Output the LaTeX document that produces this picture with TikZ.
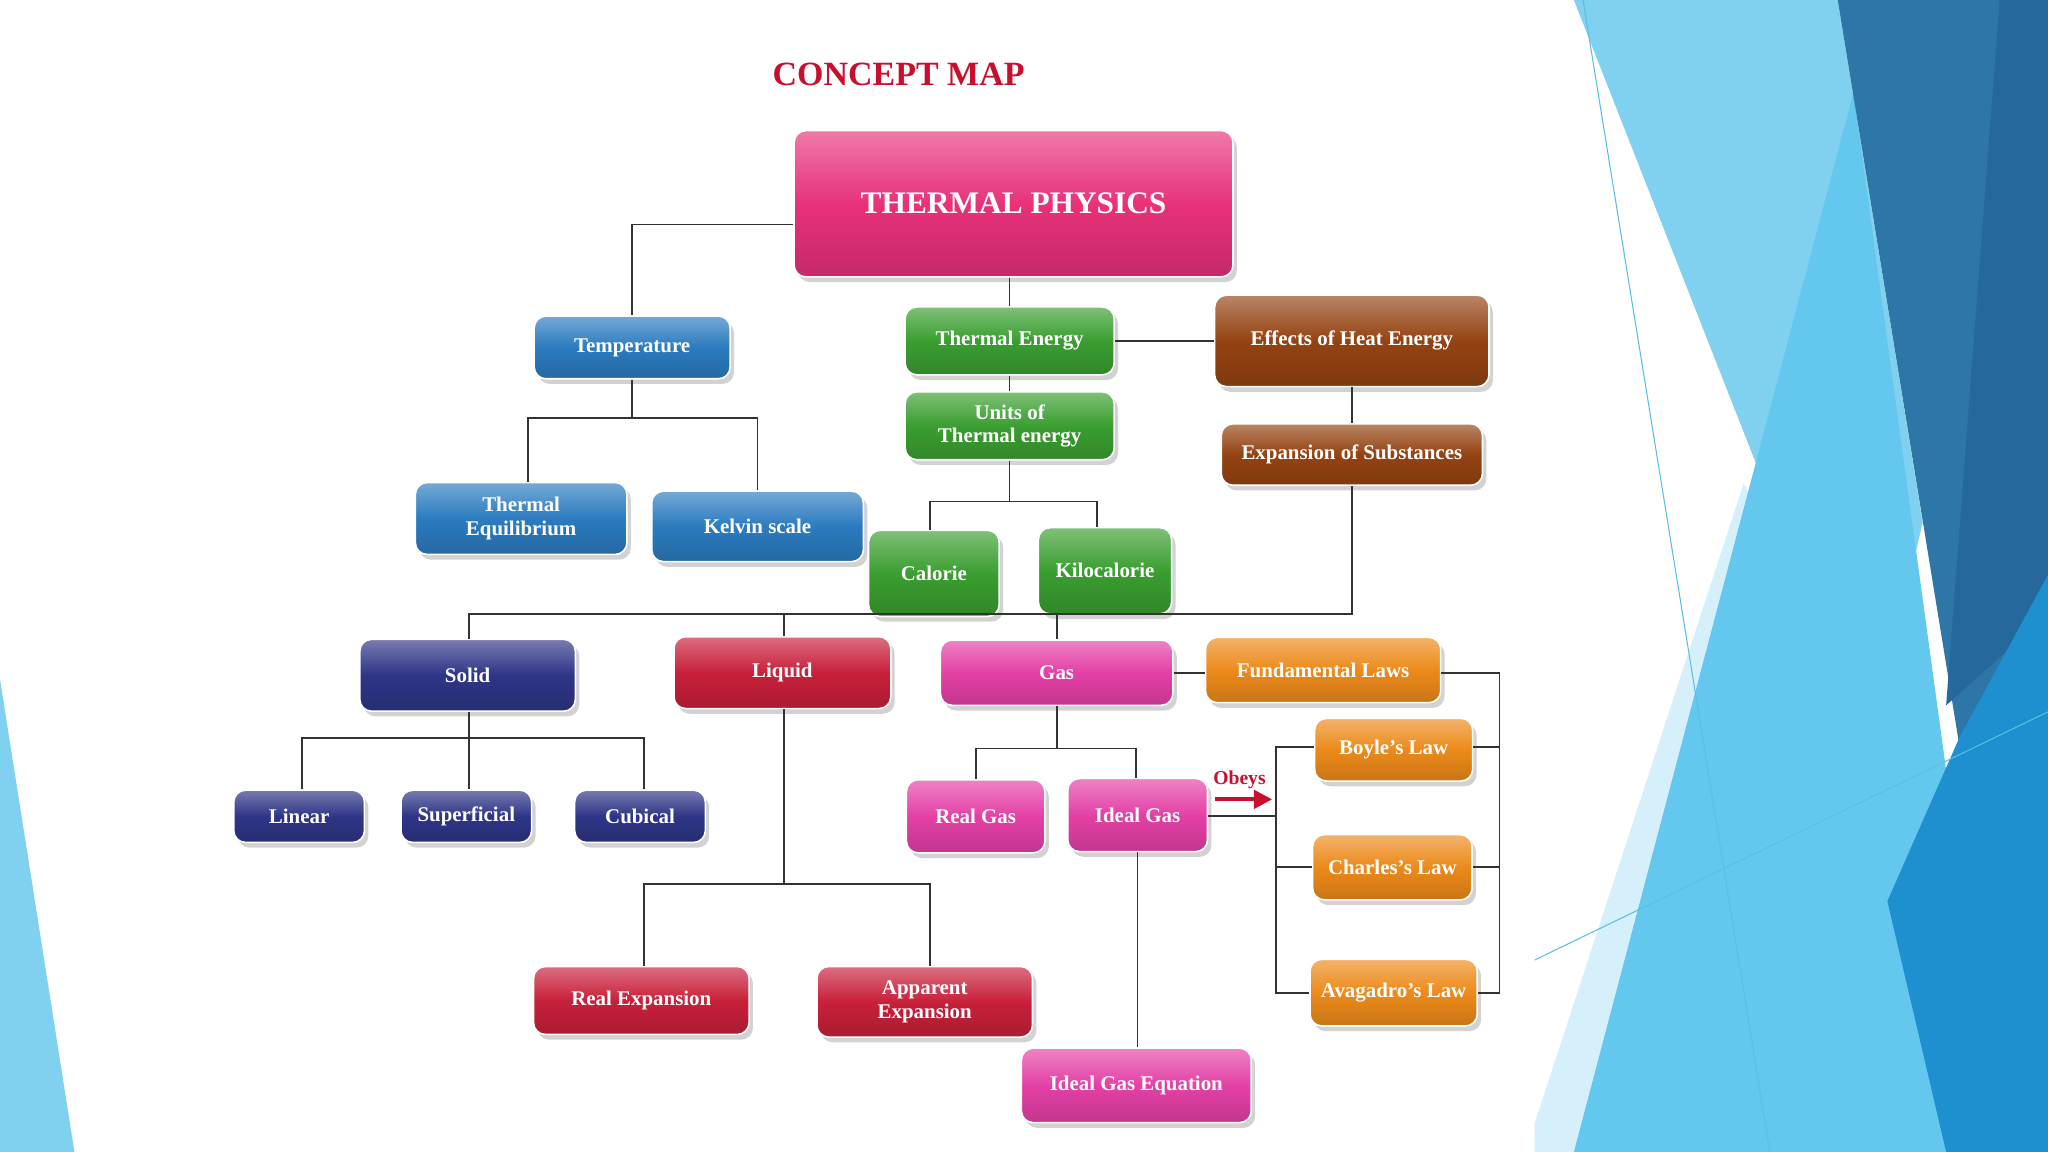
\documentclass[tikz,border=0pt]{standalone}
\usepackage{fontspec}
\setmainfont{Liberation Serif}
\usetikzlibrary{shadows,arrows.meta}
\definecolor{cpink}{HTML}{E8317A}
\definecolor{cblue}{HTML}{2B7BBF}
\definecolor{cgreen}{HTML}{3A9E30}
\definecolor{cbrown}{HTML}{944312}
\definecolor{cnavy}{HTML}{2E3586}
\definecolor{cred}{HTML}{C8203A}
\definecolor{cmag}{HTML}{E440A6}
\definecolor{corange}{HTML}{EC8A1A}
\definecolor{tred}{HTML}{C8102E}
\definecolor{bgpale}{RGB}{214,240,251}
\definecolor{bglight}{RGB}{128,209,240}
\definecolor{bgcyan}{RGB}{100,200,238}
\definecolor{bgdark}{RGB}{46,118,168}
\definecolor{bgdarker}{RGB}{36,104,156}
\definecolor{bgmid}{RGB}{30,144,208}
\definecolor{bgline}{RGB}{90,190,230}
\tikzset{
 box/.style={rounded corners=9pt, draw=white, line width=1.2pt, text=white,
   font=\fontsize{16}{18}\selectfont\bfseries, align=center, inner sep=0pt,
   drop shadow={shadow xshift=3pt, shadow yshift=-4pt, opacity=0.35}},
 bx/.style={box, top color=#1!65!white, bottom color=#1!85!black, middle color=#1},
 link/.style={line width=1.3pt, draw=black!80},
}
\begin{document}
\begin{tikzpicture}[x=1pt,y=-1pt]
\useasboundingbox (0,0) rectangle (1568,882);
\fill[white] (0,0) rectangle (1568,882);
% background decoration
\fill[bgpale] (1335,370) -- (1430,570) -- (1290,882) -- (1175,882) -- (1175,860) -- cycle;
\fill[bglight] (1205,0) -- (1407,0) -- (1472,400) -- (1440,540) -- (1425,560) -- cycle;
\fill[bgcyan] (1419,71) -- (1530,882) -- (1205,882) -- cycle;
\fill[bgdark] (1407,0) -- (1568,0) -- (1568,882) -- (1545,882) -- (1500,570) -- cycle;
\fill[bgdarker] (1531,0) -- (1568,0) -- (1568,470) -- (1490,540) -- cycle;
\fill[bgmid] (1568,440) -- (1568,882) -- (1490,882) -- (1445,690) -- (1500,565) -- cycle;
\draw[bgline, line width=0.8pt] (1212,0) -- (1355,882);
\draw[bgline, line width=0.8pt] (1175,735) -- (1568,545);
\fill[bglight] (0,520) -- (57,882) -- (0,882) -- cycle;

\node[text=tred, font=\fontsize{26}{28}\selectfont\bfseries] (title) at (688,57) {CONCEPT MAP};

\node[bx=cpink, minimum width=336pt, minimum height=112pt, font=\fontsize{24}{26}\selectfont\bfseries] (tp) at (776,156) {THERMAL PHYSICS};
\node[bx=cblue, minimum width=150pt, minimum height=48pt] (temp) at (484,266) {Temperature};
\node[bx=cgreen, minimum width=160pt, minimum height=52pt] (te) at (773,261) {Thermal Energy};
\node[bx=cbrown, minimum width=210pt, minimum height=70pt] (eff) at (1035,261) {Effects of Heat Energy};
\node[bx=cgreen, minimum width=160pt, minimum height=52pt] (units) at (773,326) {Units of\\Thermal energy};
\node[bx=cbrown, minimum width=200pt, minimum height=47pt] (exp) at (1035,348) {Expansion of Substances};
\node[bx=cblue, minimum width=162pt, minimum height=55pt] (teq) at (399,397) {Thermal\\Equilibrium};
\node[bx=cblue, minimum width=162pt, minimum height=54pt] (kel) at (580,403) {Kelvin scale};
\node[bx=cgreen, minimum width=100pt, minimum height=66pt] (cal) at (715,439) {Calorie};
\node[bx=cgreen, minimum width=102pt, minimum height=66pt] (kcal) at (846,437) {Kilocalorie};
\node[bx=cnavy, minimum width=165pt, minimum height=55pt] (solid) at (358,517) {Solid};
\node[bx=cred, minimum width=166pt, minimum height=55pt] (liq) at (599,515) {Liquid};
\node[bx=cmag, minimum width=178pt, minimum height=50pt] (gas) at (809,515) {Gas};
\node[bx=corange, minimum width=180pt, minimum height=50pt] (fund) at (1013,513) {Fundamental Laws};
\node[bx=cnavy, minimum width=100pt, minimum height=40pt] (lin) at (229,625) {Linear};
\node[bx=cnavy, minimum width=100pt, minimum height=40pt] (sup) at (357,625) {Superficial};
\node[bx=cnavy, minimum width=100pt, minimum height=40pt] (cub) at (490,625) {Cubical};
\node[bx=cmag, minimum width=106pt, minimum height=56pt] (rg) at (747,625) {Real Gas};
\node[bx=cmag, minimum width=107pt, minimum height=56pt] (ig) at (871,624) {Ideal Gas};
\node[bx=corange, minimum width=121pt, minimum height=48pt] (boy) at (1067,574) {Boyle's Law};
\node[bx=corange, minimum width=122pt, minimum height=50pt] (cha) at (1066,664) {Charles's Law};
\node[bx=corange, minimum width=128pt, minimum height=51pt] (ava) at (1067,760) {Avagadro's Law};
\node[bx=cred, minimum width=165pt, minimum height=52pt] (rexp) at (491,766) {Real Expansion};
\node[bx=cred, minimum width=165pt, minimum height=54pt] (aexp) at (708,767) {Apparent\\Expansion};
\node[bx=cmag, minimum width=176pt, minimum height=57pt] (ige) at (870,831) {Ideal Gas Equation};

% connectors
\coordinate (j1) at (484,172);
\draw[link] (tp.west |- j1) -- (j1) -- (temp.north);
\draw[link] (tp.south -| te.north) -- (te.north);
\draw[link] (te.east) -- (eff.west |- te.east);
\draw[link] (te.south) -- (units.north);
\draw[link] (eff.south) -- (exp.north);
\coordinate (j2) at (484,320);
\draw[link] (temp.south) -- (j2);
\draw[link] (teq.north -| 404,0) |- (j2) -| (kel.north);
\coordinate (j3) at (773,384);
\draw[link] (units.south) -- (j3);
\draw[link] (cal.north -| 712,0) |- (j3) -| (kcal.north -| 840,0);
\coordinate (j4) at (1035,470);
\draw[link] (exp.south) -- (j4) -- (359,470) -- (solid.north -| 359,0);
\draw[link] (liq.north -| 600,0) -- (600,470);
\draw[link] (gas.north) -- (gas.north |- j4);
\draw[link] (gas.east) -- (fund.west |- gas.east);
\coordinate (j5) at (1148,515);
\draw[link] (fund.east |- j5) -- (j5) -- (1148,760) -- (ava.east |- 0,760);
\draw[link] (boy.east |- 0,572) -- (1148,572);
\draw[link] (cha.east |- 0,664) -- (1148,664);
\coordinate (j6) at (359,565);
\draw[link] (solid.south -| j6) -- (j6);
\draw[link] (lin.north -| 231,0) |- (j6) -| (cub.north -| 493,0);
\draw[link] (j6) -- (sup.north -| j6);
\coordinate (j7) at (600,677);
\draw[link] (liq.south -| j7) -- (j7);
\draw[link] (rexp.north -| 493,0) |- (j7) -| (aexp.north -| 712,0);
\coordinate (j8) at (809,573);
\draw[link] (gas.south) -- (j8);
\draw[link] (rg.north) |- (j8) -| (ig.north -| 870,0);
\draw[link] (ig.south) -- (ige.north -| ig.south);
\coordinate (j9) at (977,625);
\draw[link] (ig.east |- j9) -- (j9);
\draw[link] (boy.west |- 0,572) -| (977,760) -- (ava.west |- 0,760);
\draw[link] (cha.west |- 0,664) -- (977,664);
\coordinate (oa) at (930,612);
\coordinate (ob) at (974,612);
\draw[tred, line width=3pt, -{Triangle[length=14pt,width=14pt]}] (oa) -- (ob);
\node[text=tred, font=\fontsize{15}{16}\selectfont\bfseries] (obeys) at (949,597) {Obeys};
\end{tikzpicture}
\end{document}
